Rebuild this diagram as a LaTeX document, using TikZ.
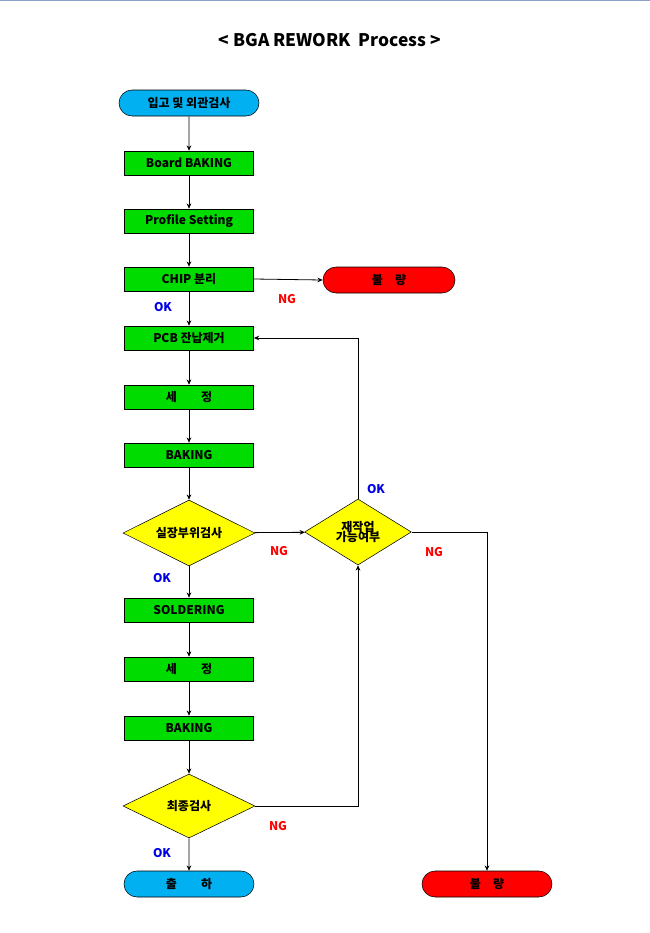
\documentclass[tikz,border=0pt]{standalone}
\usepackage{fontspec}
\setmainfont{Noto Sans CJK KR}
\usetikzlibrary{shapes.geometric,shapes.misc,arrows.meta}
\definecolor{gr}{RGB}{0,220,0}
\definecolor{cy}{RGB}{0,176,240}
\definecolor{rd}{RGB}{255,0,0}
\definecolor{yl}{RGB}{255,255,0}
\definecolor{okb}{RGB}{0,0,230}
\begin{document}
\begin{tikzpicture}[x=0.75pt,y=-0.75pt,
 font=\bfseries\fontsize{9}{10}\selectfont,
 box/.style={draw,fill=gr,minimum width=97pt,minimum height=18pt,inner sep=0pt},
 term/.style={draw,rounded rectangle,minimum width=#1,minimum height=19.5pt,inner sep=0pt},
 dia/.style={draw,fill=yl,diamond,aspect=2,minimum width=#1,minimum height=49.5pt,inner sep=0pt,align=center},
 ar/.style={-{Stealth[length=4pt,width=3.5pt]},line width=0.6pt},
 ok/.style={text=okb},ng/.style={text=rd}]
\useasboundingbox (0,0) rectangle (650,933);
\draw[color={rgb,255:red,140;green,160;blue,200},line width=1pt] (0,0.5) -- (650,0.5);
\node (title) at (330,40) {\fontsize{13}{14}\selectfont < BGA REWORK\ \ Process >};
\node[term=105pt,fill=cy] (s) at (189,103) {입고 및 외관검사};
\node[box] (b1) at (189,163) {Board BAKING};
\node[box] (b2) at (189,221) {Profile Setting};
\node[box] (b3) at (189,279) {CHIP 분리};
\node[term=99pt,fill=rd] (bad1) at (389,280) {불\quad 량};
\node[box] (b4) at (189,338) {PCB 잔납제거};
\node[box] (b5) at (189,397) {세\qquad 정};
\node[box] (b6) at (189,455) {BAKING};
\node[dia=99pt] (d1) at (189,533) {실장부위검사};
\node[dia=80pt] (d2) at (358,532) {재작업\\[-2pt]가능여부};
\node[box] (b7) at (189,610) {SOLDERING};
\node[box] (b8) at (189,669) {세\qquad 정};
\node[box] (b9) at (189,728) {BAKING};
\node[dia=99pt,minimum height=48pt] (d3) at (189,806) {최종검사};
\node[term=97.5pt,fill=cy] (e) at (189,884) {출\qquad 하};
\node[term=97.5pt,fill=rd] (bad2) at (487,884) {불\quad 량};
\draw[ar] (s) -- (b1);
\draw[ar] (b1) -- (b2);
\draw[ar] (b2) -- (b3);
\draw[ar] (b3.east) -- (bad1.west);
\draw[ar] (b3) -- (b4);
\draw[ar] (b4) -- (b5);
\draw[ar] (b5) -- (b6);
\draw[ar] (b6) -- (d1);
\draw[ar] (d1) -- (d2);
\draw[ar] (d1) -- (b7);
\draw[ar] (b7) -- (b8);
\draw[ar] (b8) -- (b9);
\draw[ar] (b9) -- (d3);
\draw[ar] (d3) -- (e);
\draw[ar] (d2.north) |- (b4.east);
\draw[ar] (d2.east) -| (bad2.north);
\draw[ar] (d3.east) -| (d2.south);
\node[ng] (n1) at (287,299) {NG};
\node[ok] (o1) at (163,307) {OK};
\node[ng] (n2) at (279,551) {NG};
\node[ok] (o2) at (162,578) {OK};
\node[ok] (o3) at (376,489) {OK};
\node[ng] (n3) at (434,552) {NG};
\node[ng] (n4) at (278,826) {NG};
\node[ok] (o4) at (162,853) {OK};
\end{tikzpicture}
\end{document}
